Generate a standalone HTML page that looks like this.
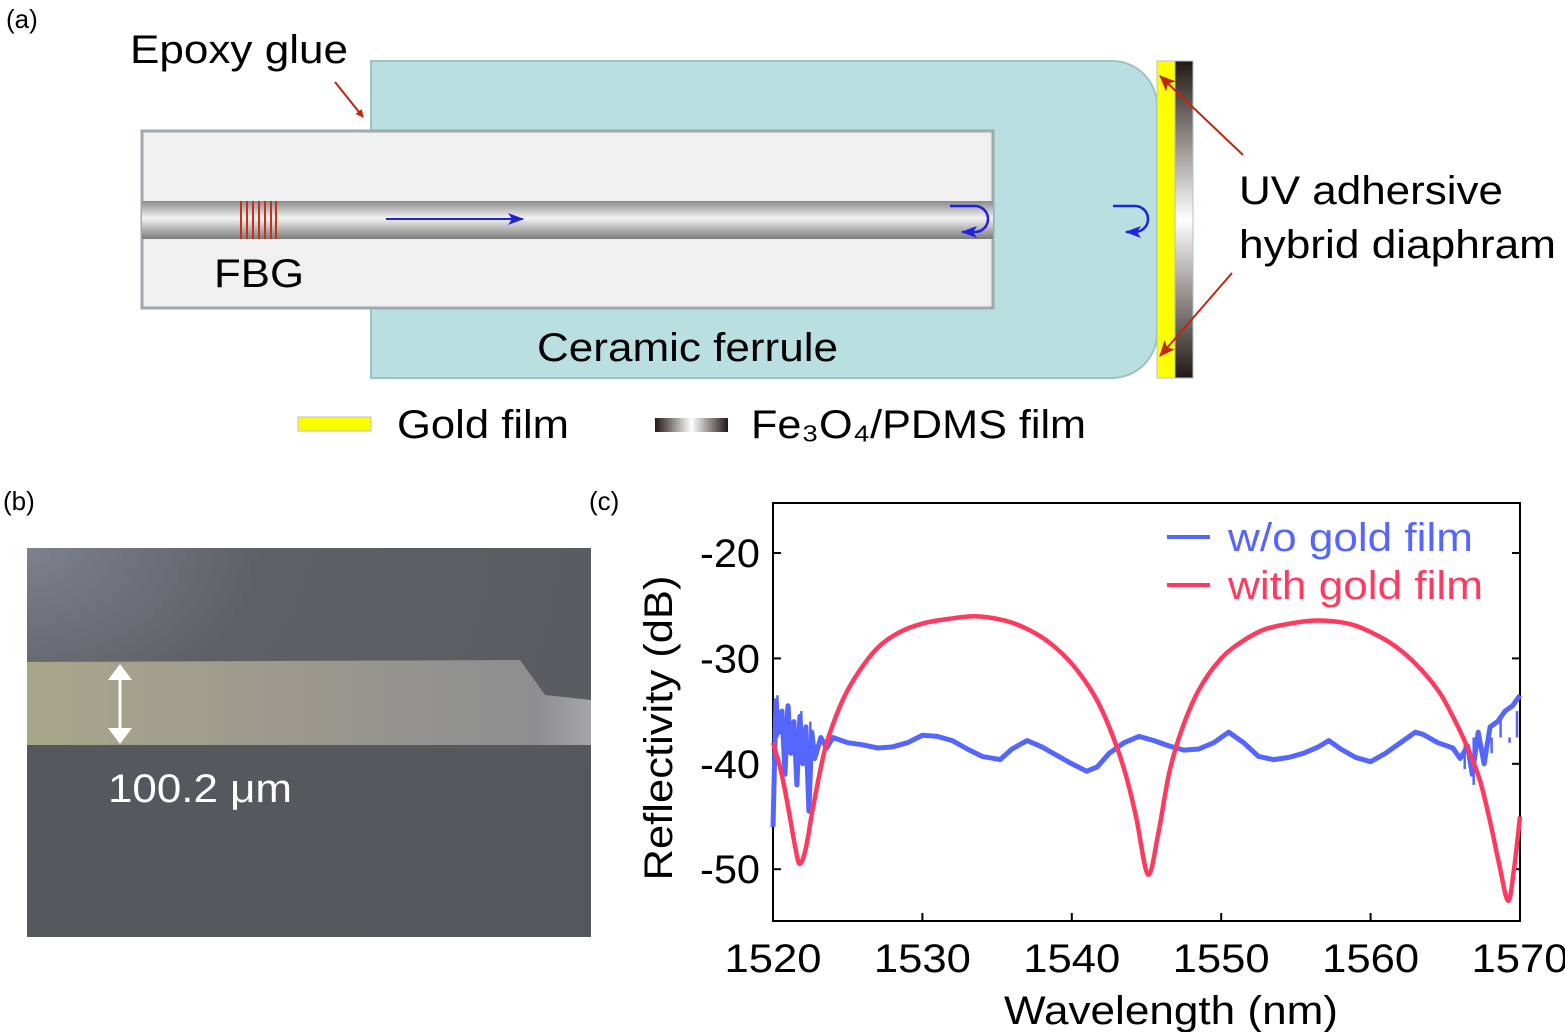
<!DOCTYPE html>
<html><head><meta charset="utf-8"><style>
body{margin:0;background:#fff;}
svg{display:block;font-family:"Liberation Sans",Arial,sans-serif;}
</style></head><body>
<svg width="1565" height="1032" viewBox="0 0 1565 1032" xmlns="http://www.w3.org/2000/svg">
<defs>
<linearGradient id="fib" x1="0" y1="0" x2="0" y2="1">
<stop offset="0" stop-color="#8a8a8a"/><stop offset="0.45" stop-color="#f4f4f4"/><stop offset="1" stop-color="#7a7a7a"/></linearGradient>
<linearGradient id="fe" x1="0" y1="0" x2="0" y2="1">
<stop offset="0" stop-color="#231815"/><stop offset="0.5" stop-color="#ffffff"/><stop offset="1" stop-color="#231815"/></linearGradient>
<linearGradient id="feh" x1="0" y1="0" x2="1" y2="0">
<stop offset="0" stop-color="#231815"/><stop offset="0.5" stop-color="#ffffff"/><stop offset="1" stop-color="#231815"/></linearGradient>
<radialGradient id="photo" cx="0" cy="0" r="1.2">
<stop offset="0" stop-color="#7d818c"/><stop offset="0.35" stop-color="#5e6066"/><stop offset="1" stop-color="#5a5b5f"/></radialGradient>
<linearGradient id="strip" x1="0" y1="0" x2="1" y2="0">
<stop offset="0" stop-color="#a9a78a"/><stop offset="0.5" stop-color="#9a988e"/><stop offset="0.9" stop-color="#8e8e90"/><stop offset="1" stop-color="#a5a5a8"/></linearGradient>
<marker id="ra" markerWidth="8" markerHeight="8" refX="7" refY="4" orient="auto" markerUnits="userSpaceOnUse"><path d="M0,0 L8,4 L0,8 Z" fill="#c0260d"/></marker>
<marker id="ra2" markerWidth="16" markerHeight="14" refX="15" refY="7" orient="auto" markerUnits="userSpaceOnUse"><path d="M0,0 L16,7 L0,14 L4,7 Z" fill="#c0260d"/></marker>
<marker id="ba" markerWidth="16" markerHeight="12" refX="15" refY="6" orient="auto" markerUnits="userSpaceOnUse"><path d="M0,0 L16,6 L0,12 L4,6 Z" fill="#2222dd"/></marker>
</defs>

<!-- Panel a -->
<text x="6" y="28" font-size="26">(a)</text>
<path d="M371,61 H1112 A45,45 0 0 1 1157,106 V333 A45,45 0 0 1 1112,378 H371 Z" fill="#b9dfe1" stroke="#9cc2c5" stroke-width="2"/>
<rect x="142" y="131" width="851" height="177" fill="#f0f0f0" stroke="#9eaaac" stroke-width="3"/>
<rect x="142" y="201" width="851" height="38" fill="url(#fib)"/>
<g stroke="#c8301a" stroke-width="2">
<line x1="241" y1="201" x2="241" y2="239"/><line x1="247" y1="201" x2="247" y2="239"/><line x1="253" y1="201" x2="253" y2="239"/><line x1="259" y1="201" x2="259" y2="239"/><line x1="265" y1="201" x2="265" y2="239"/><line x1="271" y1="201" x2="271" y2="239"/><line x1="276" y1="201" x2="276" y2="239"/></g>
<line x1="386" y1="219" x2="523" y2="219" stroke="#2222dd" stroke-width="2" marker-end="url(#ba)"/>
<path d="M950,206 H975 A13,13 0 0 1 975,232 H962" fill="none" stroke="#2222dd" stroke-width="2.5" marker-end="url(#ba)"/>
<path d="M1113,206 H1135 A13,13 0 0 1 1135,232 H1126" fill="none" stroke="#2222dd" stroke-width="2.5" marker-end="url(#ba)"/>
<rect x="1157" y="61" width="18" height="317" fill="#ffff00" stroke="#b0c4c4"/>
<rect x="1175" y="61" width="18" height="317" fill="url(#fe)" stroke="#b0c4c4"/>
<line x1="1243" y1="155" x2="1160" y2="76" stroke="#c0260d" stroke-width="2" marker-end="url(#ra2)"/>
<line x1="1232" y1="273" x2="1160" y2="356" stroke="#c0260d" stroke-width="2" marker-end="url(#ra2)"/>
<line x1="335" y1="82" x2="363" y2="117" stroke="#c0260d" stroke-width="2" marker-end="url(#ra)"/>
<text x="130" y="63" font-size="40" textLength="218" lengthAdjust="spacingAndGlyphs">Epoxy glue</text>
<text x="214" y="287" font-size="40" textLength="90" lengthAdjust="spacingAndGlyphs">FBG</text>
<text x="537" y="361" font-size="40" textLength="301" lengthAdjust="spacingAndGlyphs">Ceramic ferrule</text>
<text x="1239" y="204" font-size="40" textLength="264" lengthAdjust="spacingAndGlyphs">UV adhersive</text>
<text x="1239" y="258" font-size="40" textLength="317" lengthAdjust="spacingAndGlyphs">hybrid diaphram</text>
<rect x="298" y="417" width="73" height="14" fill="#ffff00" stroke="#b0c4c4"/>
<text x="397" y="438" font-size="40" textLength="172" lengthAdjust="spacingAndGlyphs">Gold film</text>
<rect x="655" y="418" width="73" height="14" fill="url(#feh)"/>
<text x="751" y="438" font-size="40" textLength="335" lengthAdjust="spacingAndGlyphs">Fe₃O₄/PDMS film</text>

<!-- Panel b -->
<text x="3" y="510" font-size="26">(b)</text>
<rect x="27" y="548" width="564" height="389" fill="url(#photo)"/>
<rect x="27" y="745" width="564" height="192" fill="#56575c" opacity="0.85"/>
<path d="M27,662 L520,660 L545,695 L591,700 L591,745 L27,745 Z" fill="url(#strip)"/>
<line x1="120" y1="668" x2="120" y2="740" stroke="#fff" stroke-width="3"/>
<path d="M108,680 L120,664 L132,680 Z M108,728 L120,744 L132,728 Z" fill="#fff"/>
<text x="108" y="802" font-size="40" fill="#fff" textLength="184" lengthAdjust="spacingAndGlyphs">100.2 μm</text>

<!-- Panel c -->
<text x="589" y="510" font-size="26">(c)</text>
<g id="chart"></g>
</svg>
<script>
const xTicks=[1520,1530,1540,1550,1560,1570];
const yTicks=[-20,-30,-40,-50];
const redX=[1520,1520.5,1521,1521.5,1521.8,1522.2,1522.7,1523.5,1524.5,1525.5,1527,1528.5,1530,1531.5,1533.5,1535.5,1537,1538.5,1540,1541.5,1542.5,1543.5,1544.3,1545.1,1545.8,1546.5,1547.3,1548.5,1550,1551.5,1553,1555,1556.5,1558.5,1560,1561.5,1563,1564.5,1565.5,1566.5,1567.3,1568,1568.6,1569.2,1569.6,1570];
const redY=[-38,-40.5,-44,-48,-49.5,-48,-44,-38.5,-34.5,-31.8,-29,-27.5,-26.7,-26.3,-26,-26.4,-27.2,-28.5,-30.5,-33.5,-36.5,-40.5,-45,-50.5,-46.5,-41,-37,-33,-30,-28.3,-27.2,-26.6,-26.4,-26.7,-27.5,-28.7,-30.5,-33,-35.5,-38.5,-41.5,-45.5,-49.5,-53,-50,-45];
const blueX=[1520,1520.2,1520.4,1520.6,1520.8,1521,1521.2,1521.4,1521.6,1521.8,1522,1522.2,1522.4,1522.6,1522.8,1523.2,1523.6,1524,1525,1526,1527,1528,1529,1530,1531,1532,1533,1534,1535.2,1536,1537,1538,1539,1540,1541,1541.7,1542.5,1543.5,1544.5,1545.5,1546.5,1547.5,1548.5,1549.5,1550.5,1551.5,1552.5,1553.5,1554.5,1555.5,1556.5,1557.2,1558,1559,1560,1561,1562,1563,1563.5,1564.5,1565.5,1566,1566.5,1566.8,1567.2,1567.6,1568,1568.5,1569,1569.5,1570];
const blueY=[-46,-34,-37,-35,-41,-34.5,-39,-36,-42,-35.5,-40,-36.5,-44.5,-37,-39.5,-37.5,-38.5,-37.5,-38,-38.2,-38.5,-38.4,-38,-37.3,-37.4,-37.8,-38.6,-39.3,-39.6,-38.6,-37.8,-38.4,-39.2,-40,-40.7,-40.3,-39,-38,-37.4,-37.8,-38.3,-38.7,-38.6,-38,-37,-38,-39.3,-39.6,-39.4,-39,-38.4,-37.8,-38.6,-39.4,-39.8,-39,-38,-37,-37.2,-38,-38.5,-39.5,-38.3,-41,-37,-40,-36.5,-36,-35,-34.5,-33.5];
const noiseX=[1520.3,1520.7,1521.1,1521.5,1521.9,1522.3,1522.5,1566.3,1566.9,1567.5,1568.1,1568.7,1569.3,1569.8];
const noiseY=[-33.5,-40,-34.5,-41.5,-35,-42,-36,-40.5,-42,-37.5,-39,-35.5,-38,-35];
const NS="http://www.w3.org/2000/svg";
const X0=773,X1=1520,Y0=503,Y1=921;
const xs=v=>X0+(v-1520)/(1570-1520)*(X1-X0);
const ys=v=>553+(v-(-20))/(-10)*105.4;
const g=document.getElementById('chart');
function mk(t,a,p){const e=document.createElementNS(NS,t);for(const k in a)e.setAttribute(k,a[k]);(p||g).appendChild(e);return e;}
function smooth(px,py){
 let d='M'+px[0].toFixed(1)+','+py[0].toFixed(1);
 for(let i=0;i<px.length-1;i++){
  const x0=px[Math.max(0,i-1)],y0=py[Math.max(0,i-1)],x1=px[i],y1=py[i],x2=px[i+1],y2=py[i+1],x3=px[Math.min(px.length-1,i+2)],y3=py[Math.min(px.length-1,i+2)];
  d+='C'+(x1+(x2-x0)/6).toFixed(1)+','+(y1+(y2-y0)/6).toFixed(1)+' '+(x2-(x3-x1)/6).toFixed(1)+','+(y2-(y3-y1)/6).toFixed(1)+' '+x2.toFixed(1)+','+y2.toFixed(1);
 }
 return d;
}
const frame=mk('rect',{x:X0,y:Y0,width:X1-X0,height:Y1-Y0,fill:'none',stroke:'#000','stroke-width':2});


xTicks.forEach(t=>{
 const l=mk('line',{x1:xs(t),x2:xs(t),y1:Y1,y2:Y1-8,stroke:'#000','stroke-width':2});
 
 
 const tx=mk('text',{x:xs(t),y:972,'font-size':40,'text-anchor':'middle',textLength:97,lengthAdjust:'spacingAndGlyphs'});
 
 
 tx.textContent=t;
});
yTicks.forEach(t=>{
 const l=mk('line',{x1:X0,x2:X0+8,y1:ys(t),y2:ys(t),stroke:'#000','stroke-width':2});
 
 
 const r=mk('line',{x1:X1,x2:X1-8,y1:ys(t),y2:ys(t),stroke:'#000','stroke-width':2});
 
 
 const tx=mk('text',{x:700,y:ys(t)+14,'font-size':40,textLength:60,lengthAdjust:'spacingAndGlyphs'});
 
 
 tx.textContent=t;
});
const xt=mk('text',{x:1004,y:1024,'font-size':40,textLength:334,lengthAdjust:'spacingAndGlyphs'});


xt.textContent='Wavelength (nm)';
const yt=mk('text',{x:672,y:728,'font-size':40,'text-anchor':'middle',textLength:305,lengthAdjust:'spacingAndGlyphs',transform:'rotate(-90 672 728)'});


yt.textContent='Reflectivity (dB)';
let bd='';
blueX.forEach((v,i)=>{bd+=(i?'L':'M')+xs(v).toFixed(1)+','+ys(blueY[i]).toFixed(1);});
const bl=mk('path',{d:bd,fill:'none',stroke:'#5566ff','stroke-width':5,'stroke-linejoin':'round'});


noiseX.forEach((v,i)=>{
 const n=mk('line',{x1:xs(v),x2:xs(v),y1:ys(-37.5),y2:ys(noiseY[i]),stroke:'#5566ff','stroke-width':2.5});
 
 
});
const rl=mk('path',{d:smooth(redX.map(xs),redY.map(ys)),fill:'none',stroke:'#ff3a5e','stroke-width':4.5,'stroke-linejoin':'round'});


const lb=mk('line',{x1:1167,x2:1210,y1:537,y2:537,stroke:'#5566ff','stroke-width':4});


const lbt=mk('text',{x:1228,y:551,'font-size':40,fill:'#5566ff',textLength:245,lengthAdjust:'spacingAndGlyphs'});


lbt.textContent='w/o gold film';
const lr=mk('line',{x1:1167,x2:1210,y1:585,y2:585,stroke:'#ff3a5e','stroke-width':4});


const lrt=mk('text',{x:1228,y:599,'font-size':40,fill:'#ff3a5e',textLength:255,lengthAdjust:'spacingAndGlyphs'});


lrt.textContent='with gold film';
</script>
</body></html>
